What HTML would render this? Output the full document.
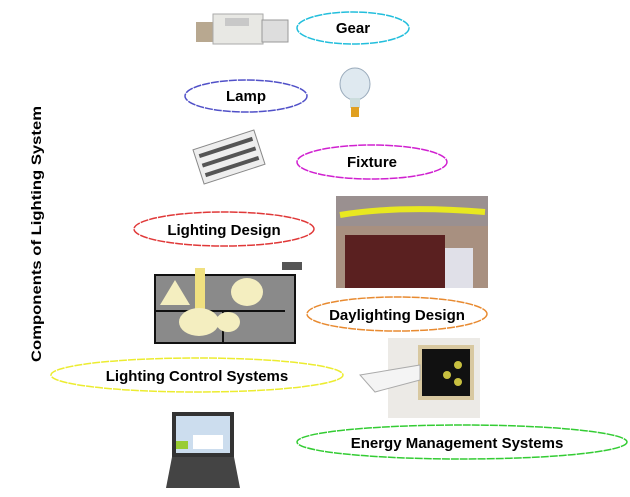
<!DOCTYPE html>
<html><head><meta charset="utf-8"><style>
html,body{margin:0;padding:0;background:#fff;}
svg{display:block;}
text{font-family:"Liberation Sans",Arial,sans-serif;font-weight:bold;fill:#000;}
</style></head><body>
<svg width="630" height="497" viewBox="0 0 630 497" xmlns="http://www.w3.org/2000/svg">
<rect width="630" height="497" fill="#fff"/>
<text x="0" y="0" font-size="14" transform="translate(41,234) rotate(-90)" text-anchor="middle" textLength="256" lengthAdjust="spacingAndGlyphs">Components of Lighting System</text>

<!-- gear image -->
<g>
<rect x="196" y="22" width="20" height="20" fill="#b8a890"/>
<rect x="213" y="14" width="50" height="30" fill="#e8e8e4" stroke="#aaa"/>
<rect x="262" y="20" width="26" height="22" fill="#ddd" stroke="#999"/>
<rect x="225" y="18" width="24" height="8" fill="#c8c8c8"/>
</g>
<!-- bulb -->
<g>
<ellipse cx="355" cy="84" rx="15" ry="16" fill="#dfe9f0" stroke="#9ab"/>
<rect x="350" y="98" width="10" height="10" fill="#cdd"/>
<rect x="351" y="107" width="8" height="10" fill="#e0a020"/>
</g>
<!-- fixture -->
<g transform="translate(229,157) rotate(-18)">
<rect x="-32" y="-18" width="64" height="36" fill="#eee" stroke="#888"/>
<rect x="-28" y="-12" width="56" height="4" fill="#555"/>
<rect x="-28" y="-2" width="56" height="4" fill="#555"/>
<rect x="-28" y="8" width="56" height="4" fill="#555"/>
</g>
<!-- 3D room -->
<g>
<rect x="336" y="196" width="152" height="92" fill="#a89080"/>
<rect x="336" y="196" width="152" height="30" fill="#9a9090"/>
<rect x="345" y="235" width="100" height="53" fill="#5a2020"/>
<rect x="445" y="248" width="28" height="40" fill="#e0e0e8"/>
<path d="M340 215 Q400 205 485 212" stroke="#e8e820" stroke-width="6" fill="none"/>
</g>
<!-- building -->
<g>
<rect x="155" y="275" width="140" height="68" fill="#8a8a8a" stroke="#111" stroke-width="2"/>
<line x1="155" y1="311" x2="285" y2="311" stroke="#111" stroke-width="2"/>
<line x1="196" y1="275" x2="196" y2="311" stroke="#111" stroke-width="2"/>
<line x1="223" y1="311" x2="223" y2="343" stroke="#111" stroke-width="2"/>
<rect x="195" y="268" width="10" height="45" fill="#f0e080"/>
<ellipse cx="199" cy="322" rx="20" ry="14" fill="#f4eec0"/>
<ellipse cx="247" cy="292" rx="16" ry="14" fill="#f4eec0"/>
<ellipse cx="228" cy="322" rx="12" ry="10" fill="#f4eec0"/>
<polygon points="175,280 160,305 190,305" fill="#f4eec0"/>
<rect x="282" y="262" width="20" height="8" fill="#555"/>
</g>
<!-- touch panel -->
<g>
<rect x="388" y="338" width="92" height="80" fill="#eceae6"/>
<rect x="418" y="345" width="56" height="55" fill="#d8c8a0"/>
<rect x="422" y="349" width="48" height="47" fill="#111"/>
<circle cx="458" cy="365" r="4" fill="#c8c040"/><circle cx="447" cy="375" r="4" fill="#c8c040"/><circle cx="458" cy="382" r="4" fill="#c8c040"/>
<path d="M360 375 L420 365 L420 380 L375 392 Z" fill="#f4f4f4" stroke="#aaa"/>
</g>
<!-- laptop -->
<g>
<rect x="172" y="412" width="62" height="45" fill="#333"/>
<rect x="176" y="416" width="54" height="37" fill="#cde"/>
<rect x="193" y="435" width="30" height="14" fill="#fff"/>
<rect x="176" y="441" width="12" height="8" fill="#9c3"/>
<polygon points="172,457 234,457 240,488 166,488" fill="#444"/>
</g>

<!-- ellipses -->
<g fill="none" stroke-width="1.5" stroke-dasharray="8 1">
<ellipse cx="353" cy="28" rx="56" ry="16" stroke="#22bedc"/>
<ellipse cx="246" cy="96" rx="61" ry="16" stroke="#5050c8"/>
<ellipse cx="372" cy="162" rx="75" ry="17" stroke="#d020d0"/>
<ellipse cx="224" cy="229" rx="90" ry="17" stroke="#e03838"/>
<ellipse cx="397" cy="314" rx="90" ry="17" stroke="#e88a30"/>
<ellipse cx="197" cy="375" rx="146" ry="17" stroke="#ecec30"/>
<ellipse cx="462" cy="442" rx="165" ry="17" stroke="#33cc33"/>
</g>
<g font-size="15" text-anchor="middle">
<text x="353" y="33">Gear</text>
<text x="246" y="101">Lamp</text>
<text x="372" y="167">Fixture</text>
<text x="224" y="235">Lighting Design</text>
<text x="397" y="320">Daylighting Design</text>
<text x="197" y="381">Lighting Control Systems</text>
<text x="457" y="448">Energy Management Systems</text>
</g>
</svg>
</body></html>
